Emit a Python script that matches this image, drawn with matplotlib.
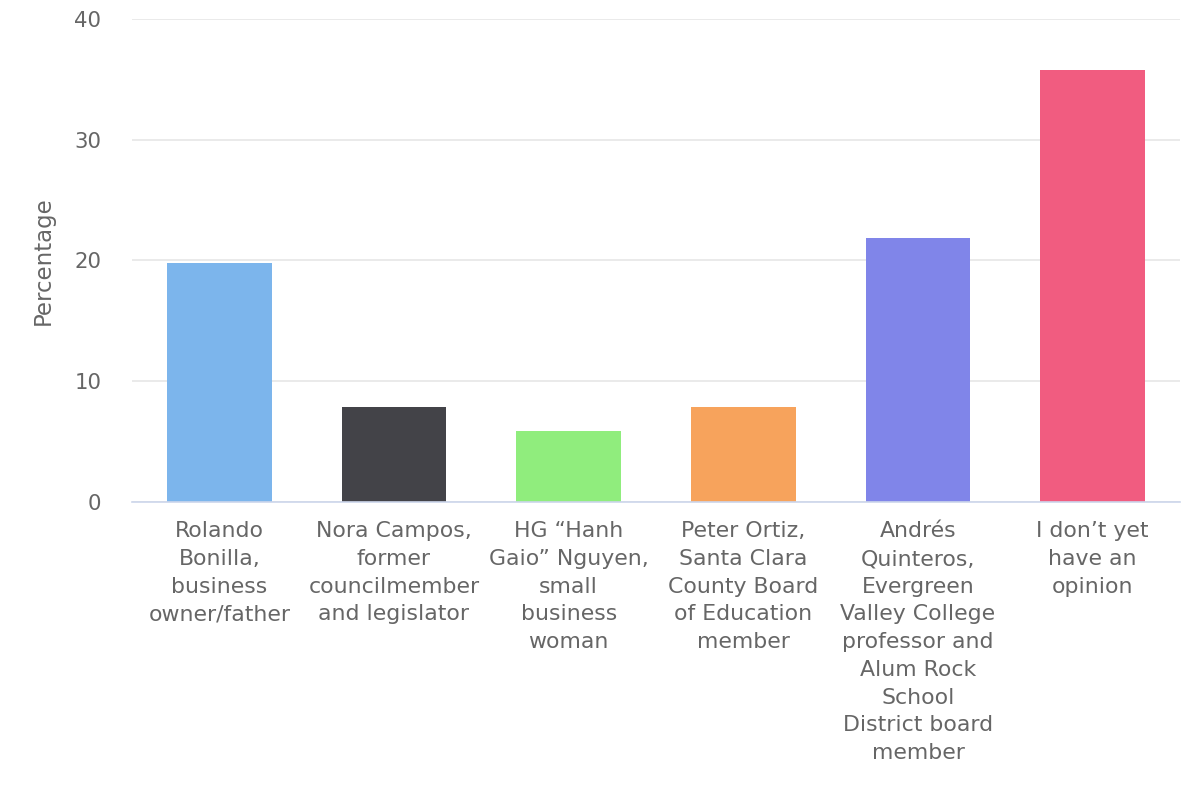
import matplotlib
matplotlib.use("Agg")
import matplotlib.pyplot as plt

categories = [
    "Rolando\nBonilla,\nbusiness\nowner/father",
    "Nora Campos,\nformer\ncouncilmember\nand legislator",
    "HG \u201cHanh\nGaio\u201d Nguyen,\nsmall\nbusiness\nwoman",
    "Peter Ortiz,\nSanta Clara\nCounty Board\nof Education\nmember",
    "Andr\u00e9s\nQuinteros,\nEvergreen\nValley College\nprofessor and\nAlum Rock\nSchool\nDistrict board\nmember",
    "I don\u2019t yet\nhave an\nopinion",
]
values = [19.8, 7.9, 5.9, 7.9, 21.9, 35.8]
colors = ["#7cb5ec", "#434348", "#90ed7d", "#f7a35c", "#8085e9", "#f15c80"]
yticks = [0, 10, 20, 30, 40]

fig = plt.figure(figsize=(12, 8), dpi=100)
ax = fig.add_axes([0.11, 0.3725, 0.8733, 0.6038])

x = list(range(len(categories)))
ax.bar(x, values, width=0.6, color=colors, zorder=3)
ax.set_xlim(-0.5, len(categories) - 0.5)
ax.set_ylim(0, 40)
ax.set_yticks(yticks)
ax.set_yticklabels([str(t) for t in yticks])
ax.yaxis.grid(True, color="#e6e6e6", linewidth=1.2, zorder=0)
ax.set_axisbelow(True)

for s in ["top", "right", "left"]:
    ax.spines[s].set_visible(False)
ax.spines["bottom"].set_color("#ccd6eb")
ax.spines["bottom"].set_linewidth(1.2)
ax.spines["bottom"].set_zorder(4)

ax.set_xticks(x)
ax.set_xticklabels(categories, fontsize=15.8, color="#666666", linespacing=1.48, va="top")
ax.tick_params(axis="x", length=0, pad=14)
ax.tick_params(axis="y", length=0, pad=22, labelsize=15.3, labelcolor="#666666")

ax.set_ylabel("Percentage", fontsize=16.5, color="#666666", labelpad=14)

fig.savefig("out.png", dpi=100, facecolor="white")
